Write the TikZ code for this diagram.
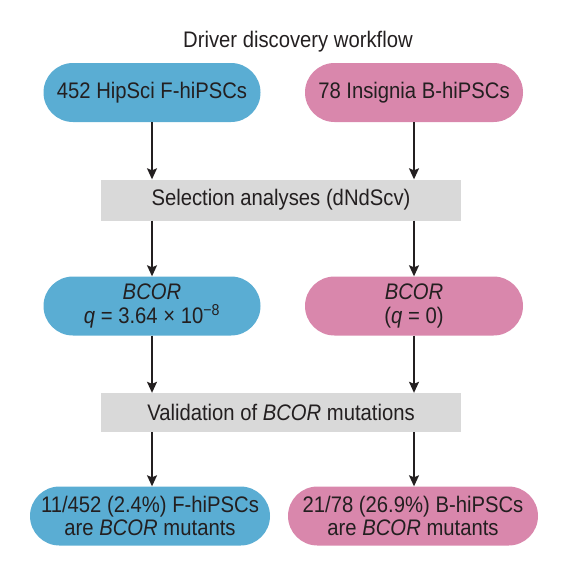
\documentclass[tikz,border=0pt]{standalone}
\usepackage{fontspec}
\setmainfont{Liberation Sans}[FakeStretch=0.9]
\usetikzlibrary{arrows.meta}
\definecolor{fblue}{RGB}{90,173,211}
\definecolor{bpink}{RGB}{217,135,172}
\definecolor{boxgray}{RGB}{217,217,217}
\definecolor{ink}{RGB}{35,31,32}
\begin{document}
\begin{tikzpicture}[x=1pt,y=-1pt,
  every node/.style={text=ink,font=\fontsize{22.5}{23.5}\selectfont,inner sep=0pt,align=center},
  pill/.style={minimum height=59pt,rounded corners=29.5pt},
  bluepill/.style={pill,fill=fblue},
  pinkpill/.style={pill,fill=bpink},
  graybox/.style={fill=boxgray,minimum width=360pt},
  flow/.style={draw=ink,line width=1.4pt,-{Stealth[length=11pt,width=10pt,inset=2pt]}}
]
\useasboundingbox (0,0) rectangle (588,582);
\node (title) at (298,42) {Driver discovery workflow};
\node[bluepill,minimum width=217pt] (f1) at (152,92.5) {452 HipSci F-hiPSCs};
\node[pinkpill,minimum width=218pt] (b1) at (414,92.5) {78 Insignia B-hiPSCs};
\node[graybox,minimum height=41pt] (sel) at (281,200) {Selection analyses (dNdScv)};
\node[bluepill,minimum width=217pt] (f2) at (152,306) {\textit{BCOR}\\\textit{q} = 3.64 × 10\textsuperscript{−8}};
\node[pinkpill,minimum width=218pt] (b2) at (414,306) {\textit{BCOR}\\(\textit{q} = 0)};
\node[graybox,minimum height=39pt] (val) at (281,412.5) {Validation of \textit{BCOR} mutations};
\node[bluepill,minimum width=240pt] (f3) at (150,516) {11/452 (2.4\%) F-hiPSCs\\are \textit{BCOR} mutants};
\node[pinkpill,minimum width=250pt] (b3) at (413,516) {21/78 (26.9\%) B-hiPSCs\\are \textit{BCOR} mutants};
\draw[flow] (f1.south) -- (f1.south |- sel.north);
\draw[flow] (b1.south) -- (b1.south |- sel.north);
\draw[flow] (f2.north |- sel.south) -- (f2.north);
\draw[flow] (b2.north |- sel.south) -- (b2.north);
\draw[flow] (f2.south) -- (f2.south |- val.north);
\draw[flow] (b2.south) -- (b2.south |- val.north);
\draw[flow] (f2.south |- val.south) -- (f2.south |- f3.north);
\draw[flow] (b2.south |- val.south) -- (b2.south |- b3.north);
\end{tikzpicture}
\end{document}
